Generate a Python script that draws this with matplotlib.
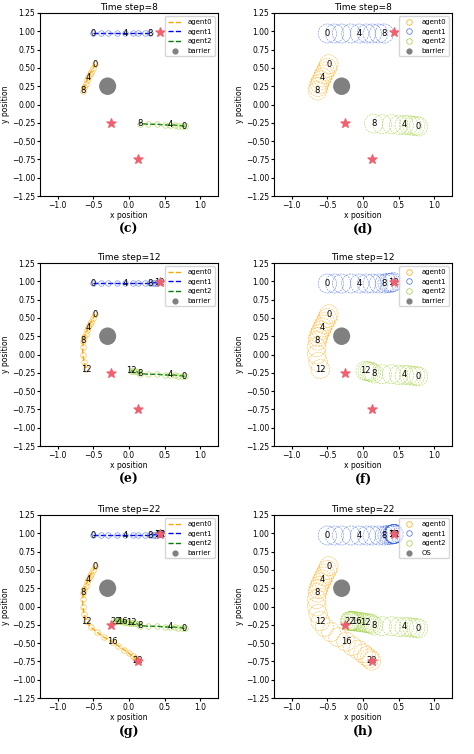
import matplotlib.pyplot as plt
import numpy as np

# trajectories, one point per time step 0..22
a0_x = [-0.48, -0.50, -0.53, -0.55, -0.57, -0.59, -0.61, -0.63, -0.64, -0.65, -0.65, -0.63,
        -0.60, -0.54, -0.45, -0.35, -0.24, -0.15, -0.07, 0.00, 0.05, 0.09, 0.12]
a0_y = [0.55, 0.50, 0.45, 0.41, 0.37, 0.33, 0.28, 0.24, 0.19, 0.10, 0.00, -0.10,
        -0.20, -0.28, -0.35, -0.42, -0.48, -0.54, -0.59, -0.64, -0.68, -0.71, -0.74]
a1_x = [-0.50, -0.40, -0.30, -0.17, -0.05, 0.05, 0.13, 0.22, 0.30, 0.34, 0.37, 0.40,
        0.42, 0.42, 0.43, 0.43, 0.43, 0.43, 0.44, 0.44, 0.44, 0.44, 0.44]
a1_y = [0.97, 0.97, 0.97, 0.97, 0.97, 0.97, 0.97, 0.97, 0.97, 0.98, 0.98, 0.98,
        0.99, 0.99, 0.99, 0.99, 0.99, 0.99, 0.99, 0.99, 0.99, 0.99, 0.99]
a2_x = [0.78, 0.74, 0.69, 0.64, 0.58, 0.50, 0.40, 0.27, 0.15, 0.12, 0.09, 0.06,
        0.03, 0.00, -0.03, -0.06, -0.09, -0.11, -0.13, -0.15, -0.17, -0.18, -0.19]
a2_y = [-0.30, -0.29, -0.29, -0.28, -0.28, -0.28, -0.27, -0.27, -0.26, -0.24, -0.23, -0.23,
        -0.22, -0.22, -0.21, -0.21, -0.21, -0.20, -0.20, -0.20, -0.20, -0.20, -0.20]
goals_x = [0.43, -0.25, 0.12]
goals_y = [0.99, -0.25, -0.74]
barrier = (-0.30, 0.25, 0.11)
label_steps = [0, 4, 8, 12, 16]

steps = [8, 12, 22]
captions = [("(c)", "(d)"), ("(e)", "(f)"), ("(g)", "(h)")]
agents = [(a0_x, a0_y, "orange", "agent0"),
          (a1_x, a1_y, "blue", "agent1"),
          (a2_x, a2_y, "green", "agent2")]
circ_cols = ["orange", "royalblue", "yellowgreen"]

plt.rcParams['font.size'] = 5.5
fig = plt.figure(figsize=(4.74, 7.54), dpi=100)
W, H = 474, 754
row_tops = [13, 263, 515]
for r, t in enumerate(steps):
    for c in range(2):
        left = 40 if c == 0 else 274
        top = row_tops[r]
        ax = fig.add_axes([left / W, 1 - (top + 183) / H, 178 / W, 183 / H])
        for i, (xs, ys, col, name) in enumerate(agents):
            xs_t, ys_t = xs[:t + 1], ys[:t + 1]
            if c == 0:
                ax.plot(xs_t, ys_t, '--', color=col, lw=1, label=name)
                ax.plot(xs_t, ys_t, 'o', mfc='none', mec=circ_cols[i], ms=4, mew=0.5, alpha=0.7)
            else:
                ax.plot([], [], 'o', mfc='none', mec=circ_cols[i], ms=4, mew=0.5, label=name)
                for x, y in zip(xs_t, ys_t):
                    ax.add_patch(plt.Circle((x, y), 0.13, fill=False, ec=circ_cols[i],
                                            lw=0.4, ls='--', alpha=0.8))
            lab = sorted(set([k for k in label_steps if k <= t] + [t]))
            for k in lab:
                ax.text(xs[k], ys[k], str(k), fontsize=6, ha='center', va='center')
        ax.add_patch(plt.Circle(barrier[:2], barrier[2], color='gray'))
        ax.scatter([], [], color='gray', s=12,
                   label='OS' if (c == 1 and r == 2) else 'barrier')
        ax.scatter(goals_x, goals_y, marker='*', color='#f06070', s=45, zorder=5)
        ax.set_xlim(-1.25, 1.25)
        ax.set_ylim(-1.25, 1.25)
        ax.set_xticks([-1.0, -0.5, 0.0, 0.5, 1.0])
        ax.set_yticks(np.arange(-1.25, 1.26, 0.25))
        ax.tick_params(labelsize=5.5, length=2, pad=1.5)
        ax.set_title(f"Time step={t}", fontsize=6.5, pad=2)
        ax.set_xlabel("x position", fontsize=5.5, labelpad=1)
        ax.set_ylabel("y position", fontsize=5.5, labelpad=1)
        ax.legend(loc='upper right', fontsize=5, handlelength=2)
        fig.text((left + 89) / W, 1 - (top + 220) / H, captions[r][c],
                 fontsize=9, fontweight='bold', family='DejaVu Serif', ha='center')

fig.savefig("out.png")
